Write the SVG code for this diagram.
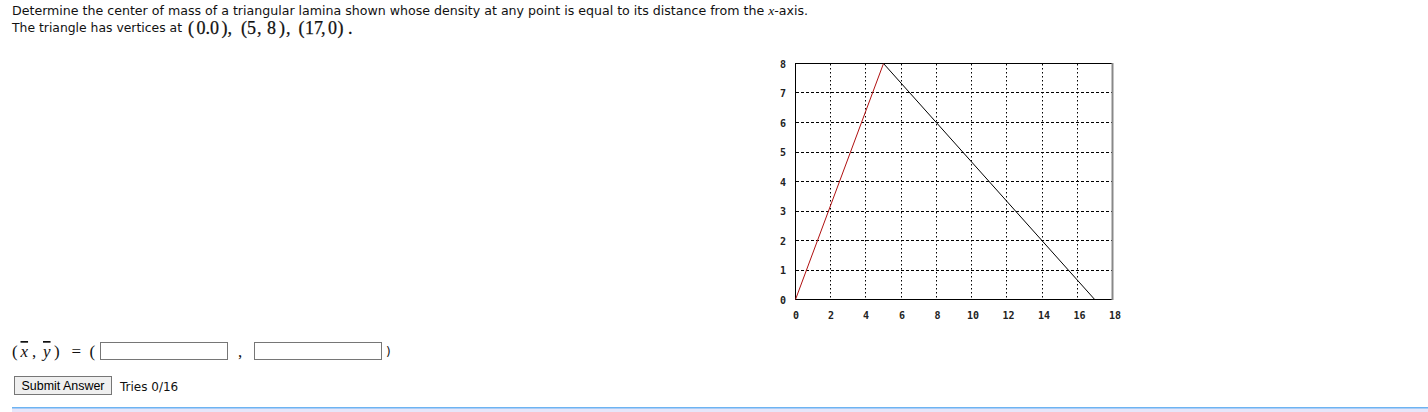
<svg xmlns="http://www.w3.org/2000/svg" width="1428" height="412" viewBox="0 0 1428 412">
<style>
.t{font-family:"DejaVu Sans",Verdana,sans-serif;font-size:12px;fill:#111}
.m{font-family:"Liberation Serif","Times New Roman",serif;font-size:18px;fill:#111;stroke:#111;stroke-width:0.25}
.mi{font-family:"Liberation Serif","Times New Roman",serif;font-size:17px;fill:#111}
.ax{font-family:"DejaVu Sans Mono",monospace;font-size:10px;font-weight:bold;fill:#222}
.gv{stroke:#000;stroke-width:1;stroke-dasharray:1.5,2.5;fill:none}
.gh{stroke:#000;stroke-width:1;stroke-dasharray:3,2;fill:none}
.box{fill:#fff;stroke:#767676;stroke-width:1}
</style>
<rect width="1428" height="412" fill="#fff"/>
<g id="question">
<text class="t" x="12" y="15" textLength="796" lengthAdjust="spacingAndGlyphs">Determine the center of mass of a triangular lamina shown whose density at any point is equal to its distance from the <tspan font-family="Liberation Serif,serif" font-style="italic" font-size="13">x</tspan>-axis.</text>
<text class="t" x="12" y="31.5" textLength="170" lengthAdjust="spacingAndGlyphs">The triangle has vertices at</text>
<text class="m" y="33.5"><tspan x="188">(</tspan><tspan x="196.5">0.0</tspan><tspan x="221.5">)</tspan><tspan x="227.5">,</tspan><tspan x="241">(</tspan><tspan x="247">5</tspan><tspan x="257">,</tspan><tspan x="267">8</tspan><tspan x="279">)</tspan><tspan x="286">,</tspan><tspan x="298.5">(</tspan><tspan x="305">17</tspan><tspan x="321">,</tspan><tspan x="328">0</tspan><tspan x="337.5">)</tspan><tspan x="348">.</tspan></text>
</g>
<g id="plot">
<g id="grid">
<line class="gv" x1="830.5" y1="64" x2="830.5" y2="299"/>
<line class="gv" x1="865.5" y1="64" x2="865.5" y2="299"/>
<line class="gv" x1="901.5" y1="64" x2="901.5" y2="299"/>
<line class="gv" x1="936.5" y1="64" x2="936.5" y2="299"/>
<line class="gv" x1="971.5" y1="64" x2="971.5" y2="299"/>
<line class="gv" x1="1006.5" y1="64" x2="1006.5" y2="299"/>
<line class="gv" x1="1042.5" y1="64" x2="1042.5" y2="299"/>
<line class="gv" x1="1077.5" y1="64" x2="1077.5" y2="299"/>
<line class="gh" x1="796" y1="270.5" x2="1112" y2="270.5"/>
<line class="gh" x1="796" y1="240.5" x2="1112" y2="240.5"/>
<line class="gh" x1="796" y1="211.5" x2="1112" y2="211.5"/>
<line class="gh" x1="796" y1="181.5" x2="1112" y2="181.5"/>
<line class="gh" x1="796" y1="152.5" x2="1112" y2="152.5"/>
<line class="gh" x1="796" y1="122.5" x2="1112" y2="122.5"/>
<line class="gh" x1="796" y1="92.5" x2="1112" y2="92.5"/>
</g>
<g id="frame">
<line x1="795.5" y1="63.5" x2="1112" y2="63.5" stroke="#000" stroke-width="1"/>
<line x1="795.5" y1="63" x2="795.5" y2="300" stroke="#000" stroke-width="1"/>
<line x1="795" y1="299.5" x2="1112" y2="299.5" stroke="#000" stroke-width="1"/>
<line x1="1112.5" y1="63" x2="1112.5" y2="300" stroke="#888" stroke-width="2"/>
</g>
<g id="edges">
<line x1="795.5" y1="299.5" x2="883.5" y2="63.5" stroke="#b01010" stroke-width="1"/>
<line x1="883.5" y1="63.5" x2="1094.7" y2="299.5" stroke="#000" stroke-width="1"/>
</g>
<g id="ylabels" text-anchor="end">
<text class="ax" x="786" y="303.5">0</text>
<text class="ax" x="786" y="274">1</text>
<text class="ax" x="786" y="244.5">2</text>
<text class="ax" x="786" y="215">3</text>
<text class="ax" x="786" y="185.5">4</text>
<text class="ax" x="786" y="156">5</text>
<text class="ax" x="786" y="126.5">6</text>
<text class="ax" x="786" y="97">7</text>
<text class="ax" x="786" y="67.5">8</text>
</g>
<g id="xlabels" text-anchor="middle">
<text class="ax" x="796" y="318.5">0</text>
<text class="ax" x="831" y="318.5">2</text>
<text class="ax" x="866" y="318.5">4</text>
<text class="ax" x="902" y="318.5">6</text>
<text class="ax" x="937.5" y="318.5">8</text>
<text class="ax" x="973" y="318.5">10</text>
<text class="ax" x="1008.5" y="318.5">12</text>
<text class="ax" x="1044" y="318.5">14</text>
<text class="ax" x="1079.5" y="318.5">16</text>
<text class="ax" x="1115" y="318.5">18</text>
</g>
</g>
<g id="answer">
<text class="mi" y="357"><tspan x="12">(</tspan><tspan x="20.5" font-style="italic" text-decoration="overline">x</tspan><tspan x="32">,</tspan><tspan x="43" font-style="italic" text-decoration="overline">y</tspan><tspan x="54">)</tspan><tspan x="71.5">=</tspan><tspan x="89.5">(</tspan></text>
<rect class="box" x="100.5" y="342.5" width="127" height="17"/>
<text class="mi" x="238" y="357">,</text>
<rect class="box" x="254.5" y="342.5" width="127" height="17"/>
<text class="t" x="386" y="356" fill="#555">)</text>
</g>
<g id="submit">
<rect x="14.5" y="376.5" width="97" height="18" fill="#efefef" stroke="#767676" stroke-width="1"/>
<text x="63" y="390" text-anchor="middle" font-family="Liberation Sans,Arial,sans-serif" font-size="12" fill="#000" textLength="83" lengthAdjust="spacingAndGlyphs">Submit Answer</text>
<text class="t" x="120" y="391">Tries 0/16</text>
</g>
<g id="bottombar">
<rect x="12" y="407" width="1416" height="5" fill="#e6e6fa"/>
<line x1="12" y1="407.75" x2="1428" y2="407.75" stroke="#6db3f2" stroke-width="1.5"/>
</g>
</svg>
